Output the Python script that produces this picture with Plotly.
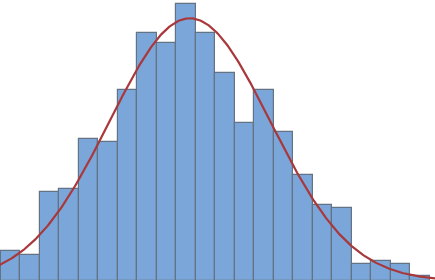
import numpy as np
import plotly.graph_objects as go

# bin index (left edges, width 1) and counts
bin_left = list(range(22))
counts = [9, 8, 27, 28, 43, 42, 58, 75, 72, 84, 75, 63, 48, 58, 45, 32, 23, 22, 5, 6, 5, 1.5]
bin_width = 1.0

# fitted normal curve parameters
curve_mean = 9.69
curve_sd = 4.13
curve_peak = 79.6

centers = [b + bin_width / 2 for b in bin_left]

xs = np.linspace(-0.1, 22.4, 400)
ys = curve_peak * np.exp(-((xs - curve_mean) ** 2) / (2 * curve_sd ** 2))

fig = go.Figure()
fig.add_trace(go.Bar(
    x=centers, y=counts, width=bin_width,
    marker=dict(color="#7BA6D9", line=dict(color="#647384", width=1.2)),
    hoverinfo="skip",
))
fig.add_trace(go.Scatter(
    x=xs, y=ys, mode="lines",
    line=dict(color="#A8383B", width=2.2),
    hoverinfo="skip",
))
fig.update_layout(
    width=435, height=280,
    margin=dict(l=0, r=0, t=0, b=0),
    paper_bgcolor="white", plot_bgcolor="white",
    showlegend=False,
    xaxis=dict(range=[-0.05, 22.26], visible=False, fixedrange=True),
    yaxis=dict(range=[0.3, 280 / 3.3 + 0.3], visible=False, fixedrange=True),
    bargap=0,
)
fig.write_html("out.html", config={"displayModeBar": False})
